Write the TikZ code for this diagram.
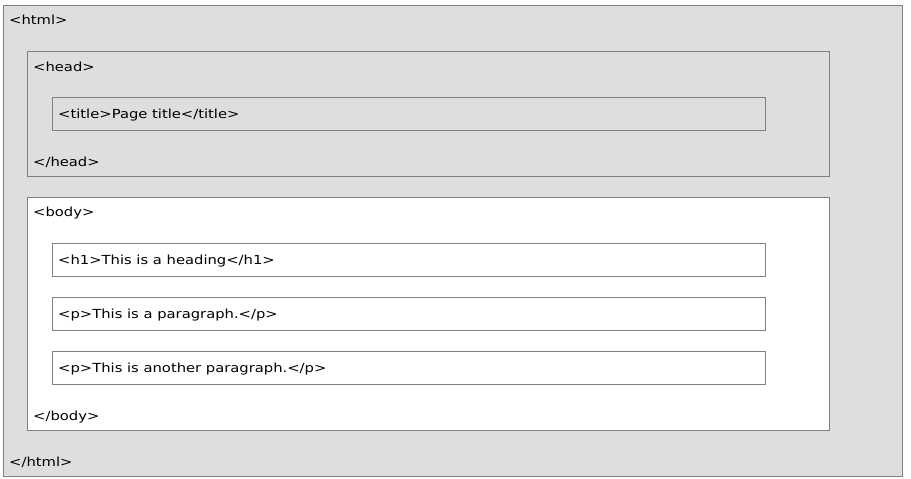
\documentclass[tikz,border=0pt]{standalone}
\usepackage{fontspec}
\setmainfont{DejaVu Sans}
\newfontfamily\tagfont[FakeStretch=1.18]{DejaVu Sans}
\begin{document}
\begin{tikzpicture}[x=1pt,y=-1pt,
  gbox/.style={draw=black!50,line width=1pt,fill=black!13},
  wbox/.style={draw=black!50,line width=1pt,fill=white},
  tag/.style={anchor=base west,inner sep=0pt,font=\tagfont\fontsize{12.5}{15}\selectfont,text=black}]
\useasboundingbox (0,0) rectangle (911,479);
\fill[white] (0,0) rectangle (911,479);
\draw[gbox] (3.5,5.5) rectangle (902.5,476.5);
\draw[gbox] (27.5,51.5) rectangle (829.5,176.5);
\draw[gbox] (52.5,97.5) rectangle (765.5,130.5);
\draw[wbox] (27.5,197.5) rectangle (829.5,430.5);
\draw[wbox] (52.5,243.5) rectangle (765.5,276.5);
\draw[wbox] (52.5,297.5) rectangle (765.5,330.5);
\draw[wbox] (52.5,351.5) rectangle (765.5,384.5);
\node[tag] (t1) at (9,24) {<html>};
\node[tag] (t2) at (33,71) {<head>};
\node[tag] (t3) at (58,118) {<title>Page title</title>};
\node[tag] (t4) at (33,166) {</head>};
\node[tag] (t5) at (33,216) {<body>};
\node[tag] (t6) at (58,264) {<h1>This is a heading</h1>};
\node[tag] (t7) at (58,318) {<p>This is a paragraph.</p>};
\node[tag] (t8) at (58,372) {<p>This is another paragraph.</p>};
\node[tag] (t9) at (33,420) {</body>};
\node[tag] (t10) at (9,466) {</html>};
\end{tikzpicture}
\end{document}
